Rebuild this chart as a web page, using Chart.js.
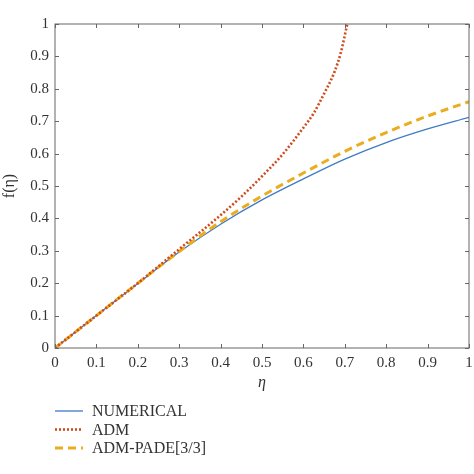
<!doctype html>
<html lang="en">
<head>
<meta charset="utf-8">
<title>f(eta)</title>
<style>
  html, body { margin: 0; padding: 0; background: #fff; }
  #caixa { width: 474px; height: 474px; position: relative; }
</style>
</head>
<body>
<div id="caixa"><canvas id="grafico"></canvas></div>

<script src="https://cdn.jsdelivr.net/npm/chart.js"></script>
<script>
// data
const eta = [0, 0.1, 0.2, 0.3, 0.4, 0.5, 0.6, 0.7, 0.8, 0.9, 1.0];
const numerical = [0, 0.1, 0.199, 0.296, 0.382, 0.457, 0.522, 0.583, 0.634, 0.676, 0.712];
const pade = [0, 0.1, 0.2, 0.298, 0.39, 0.469, 0.54, 0.607, 0.665, 0.716, 0.76];
const admEta = [0, 0.1, 0.2, 0.3, 0.35, 0.4, 0.45, 0.5, 0.55, 0.6, 0.625, 0.65, 0.675, 0.69, 0.706];
const adm = [0, 0.1, 0.2, 0.305, 0.357, 0.41, 0.467, 0.53, 0.598, 0.68, 0.725, 0.785, 0.852, 0.91, 1.0];
const xTicks = [0, 0.1, 0.2, 0.3, 0.4, 0.5, 0.6, 0.7, 0.8, 0.9, 1];
const yTicks = [0, 0.1, 0.2, 0.3, 0.4, 0.5, 0.6, 0.7, 0.8, 0.9, 1];
const labels = ["NUMERICAL", "ADM", "ADM-PADE[3/3]"];

const serif = "'Liberation Serif', 'DejaVu Serif', serif";
const pares = (xs, ys) => xs.map((v, i) => ({ x: v, y: ys[i] }));

// box, inward ticks and the legend under the plot
const caixa = {
  id: "caixa",
  afterDraw(chart) {
    const { ctx, chartArea: a, scales: { x, y } } = chart;
    ctx.save();
    ctx.strokeStyle = "#666";
    ctx.lineWidth = 1;
    ctx.strokeRect(a.left, a.top, a.right - a.left, a.bottom - a.top);
    ctx.beginPath();
    xTicks.forEach(t => {
      const px = Math.round(x.getPixelForValue(t)) + 0.5;
      ctx.moveTo(px, a.bottom); ctx.lineTo(px, a.bottom - 4);
      ctx.moveTo(px, a.top); ctx.lineTo(px, a.top + 4);
    });
    yTicks.forEach(t => {
      const py = Math.round(y.getPixelForValue(t)) + 0.5;
      ctx.moveTo(a.left, py); ctx.lineTo(a.left + 4, py);
      ctx.moveTo(a.right, py); ctx.lineTo(a.right - 4, py);
    });
    ctx.stroke();

    // legend
    ctx.font = "16px " + serif;
    ctx.textBaseline = "middle";
    chart.data.datasets.forEach((ds, i) => {
      const ly = 411 + i * 18.5;
      ctx.strokeStyle = ds.borderColor;
      ctx.lineWidth = ds.borderWidth;
      ctx.setLineDash(ds.borderDash || []);
      ctx.beginPath();
      ctx.moveTo(55, ly); ctx.lineTo(83, ly);
      ctx.stroke();
      ctx.fillStyle = "#333";
      ctx.fillText(ds.label, 92, ly + 1);
    });
    ctx.restore();
  }
};

new Chart(document.querySelector("#grafico"), {
  type: "line",
  data: {
    datasets: [
      {
        label: labels[0],
        data: pares(eta, numerical),
        borderColor: "#3f7bc6",
        borderWidth: 1.3,
        order: 3
      },
      {
        label: labels[1],
        data: pares(admEta, adm),
        borderColor: "#cf4a1c",
        borderWidth: 2.6,
        borderDash: [2, 2],
        order: 1
      },
      {
        label: labels[2],
        data: pares(eta, pade),
        borderColor: "#e9ad1f",
        borderWidth: 3,
        borderDash: [8, 5],
        order: 2
      }
    ]
  },
  options: {
    responsive: true,
    maintainAspectRatio: false,
    animation: false,
    devicePixelRatio: 1,
    layout: { padding: { left: 0, top: 24, right: 5, bottom: 82 } },
    elements: {
      point: { radius: 0 },
      line: { cubicInterpolationMode: "monotone", fill: false }
    },
    plugins: { legend: { display: false }, tooltip: { enabled: false } },
    scales: {
      x: {
        type: "linear",
        min: 0, max: 1,
        afterBuildTicks: s => { s.ticks = xTicks.map(v => ({ value: v })); },
        afterFit: s => { s.height = 44; s.paddingLeft = 0; s.paddingRight = 0; },
        grid: { display: false, drawTicks: false },
        border: { display: false },
        ticks: { padding: 6, color: "#333", font: { family: serif, size: 15 }, callback: v => String(v) },
        title: { display: true, text: "η", color: "#333", padding: { top: 0, bottom: 0 }, font: { family: serif, size: 16, style: "italic" } }
      },
      y: {
        type: "linear",
        min: 0, max: 1,
        afterBuildTicks: s => { s.ticks = yTicks.map(v => ({ value: v })); },
        afterFit: s => { s.width = 55; },
        grid: { display: false, drawTicks: false },
        border: { display: false },
        ticks: { padding: 6, color: "#333", font: { family: serif, size: 15 }, callback: v => String(v) },
        title: { display: true, text: "f(η)", color: "#333", padding: { top: 0, bottom: 0 }, font: { family: serif, size: 16 } }
      }
    }
  },
  plugins: [caixa]
});
</script>
</body>
</html>
